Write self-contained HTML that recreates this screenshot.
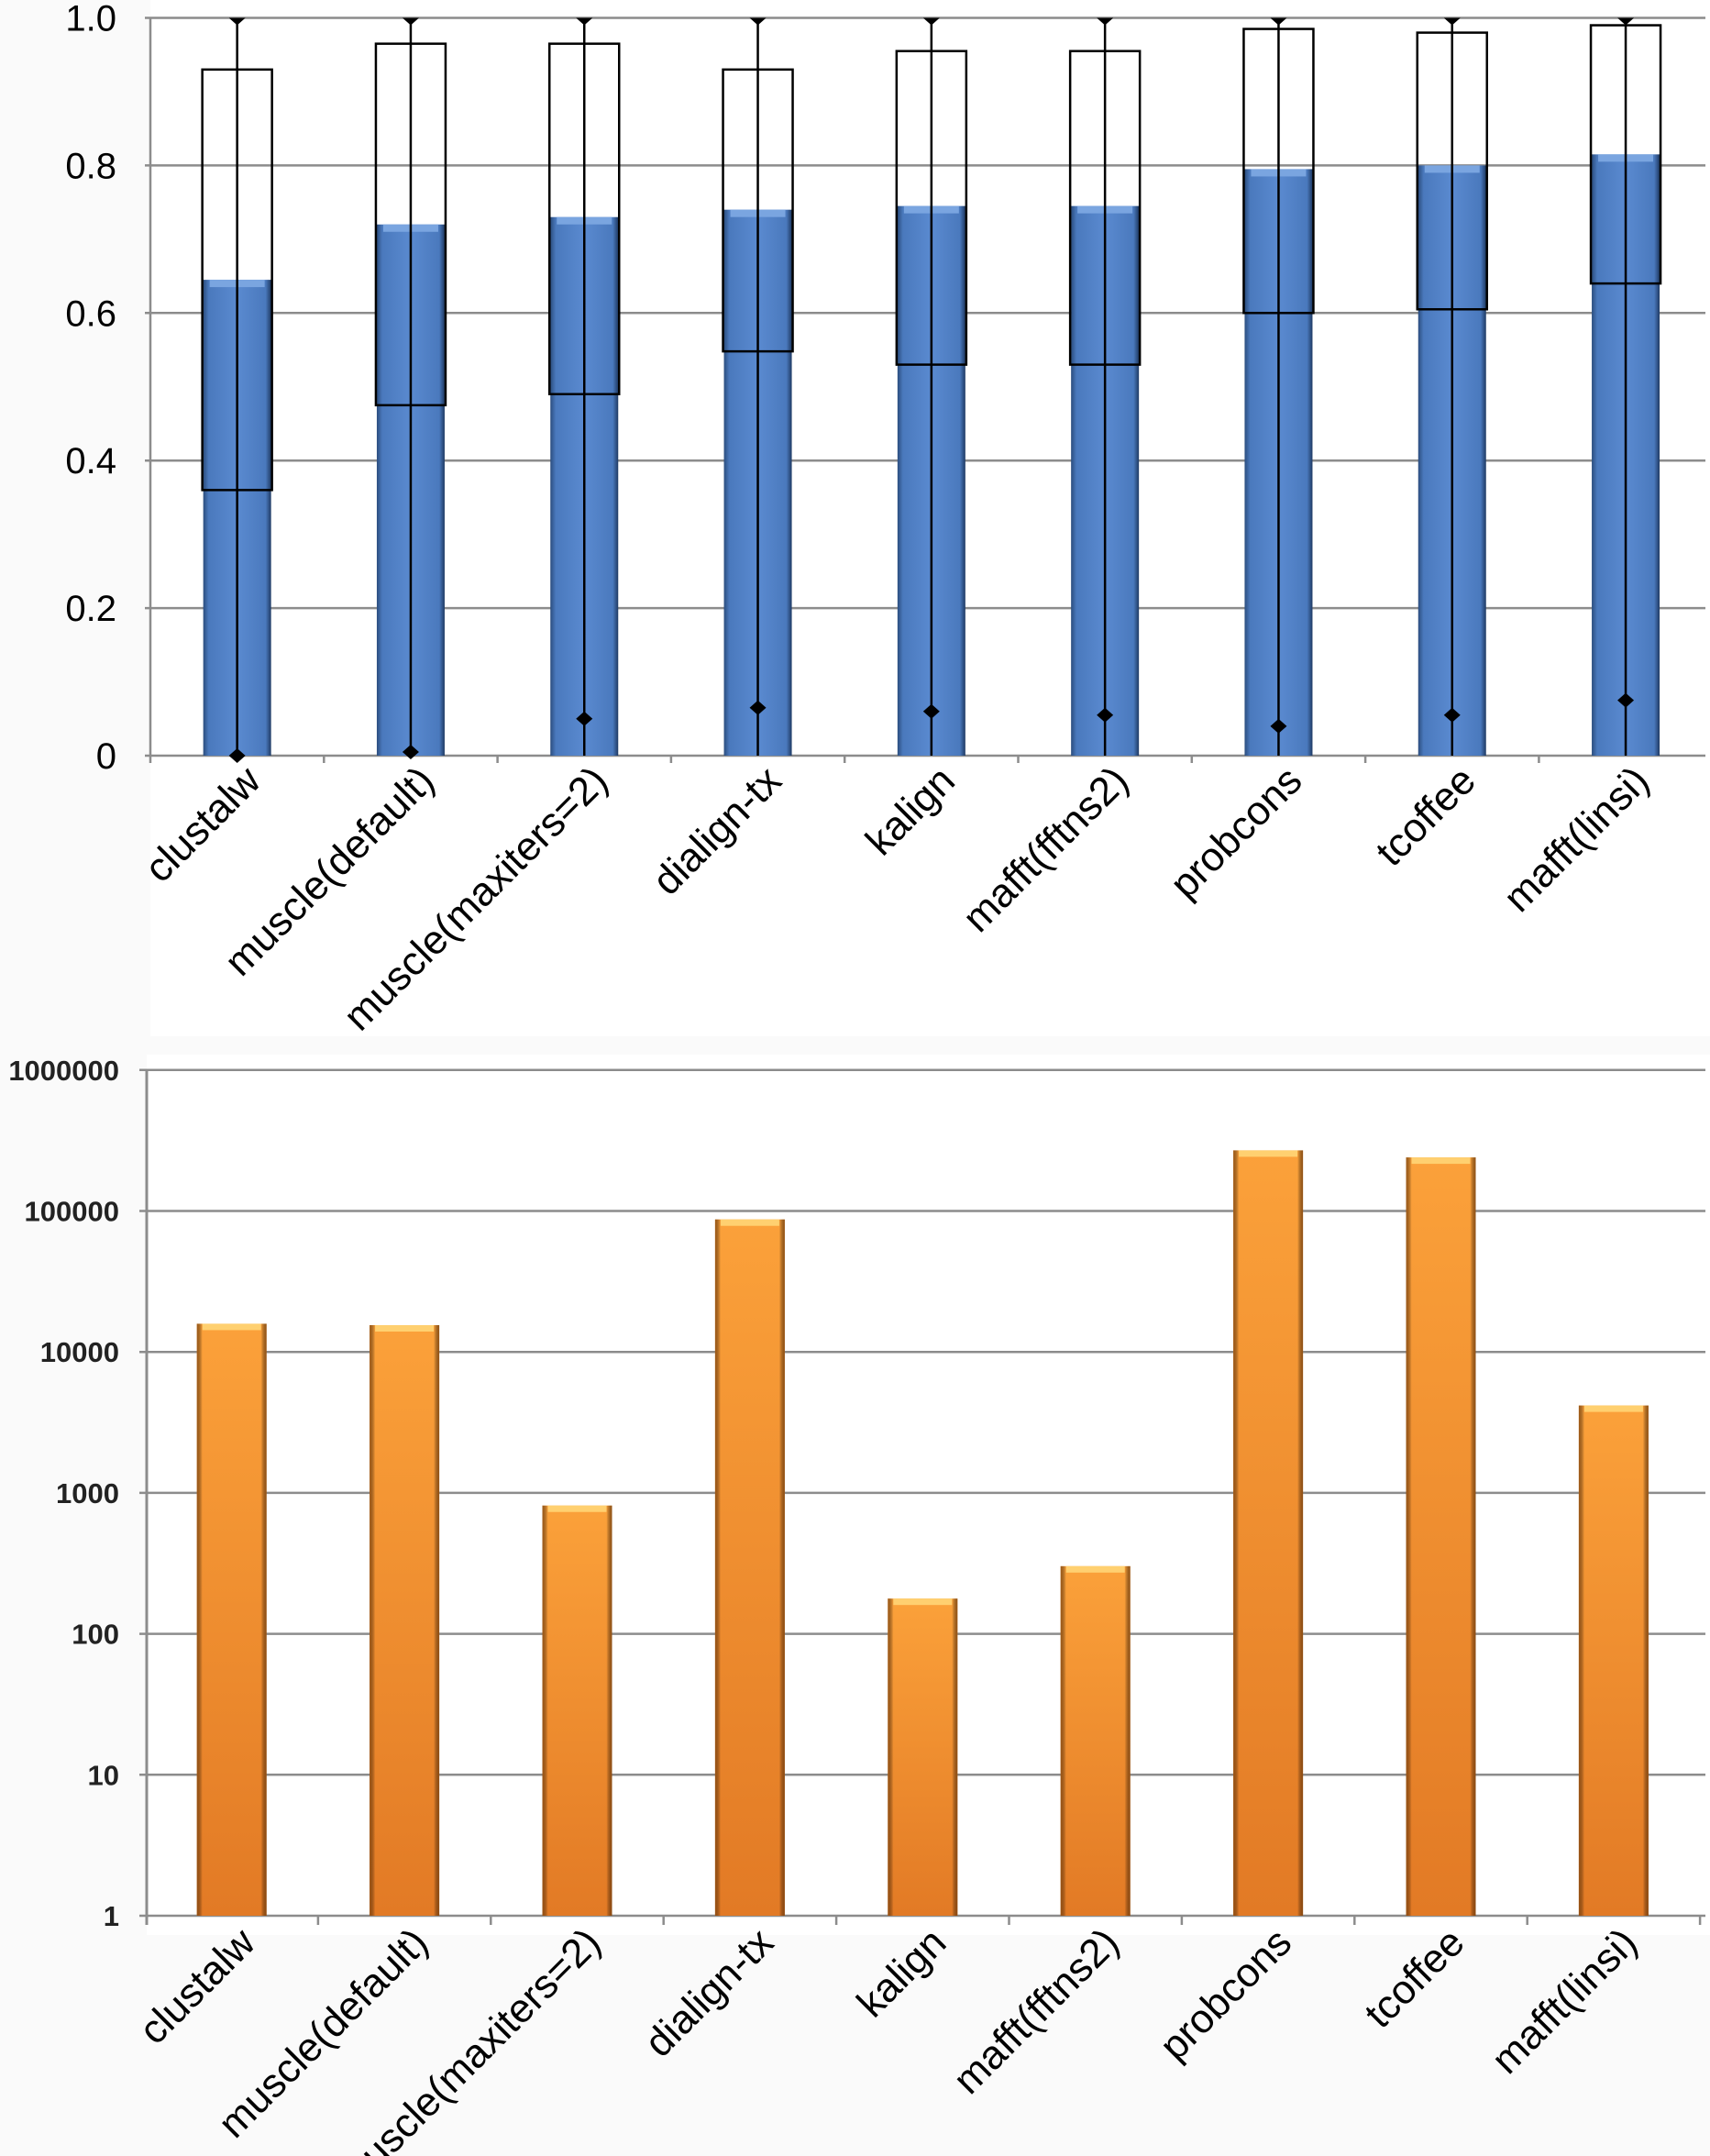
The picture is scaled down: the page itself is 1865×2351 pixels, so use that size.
<!DOCTYPE html>
<html><head><meta charset="utf-8"><style>
html,body{margin:0;padding:0;background:#fafafa;}
svg{display:block;}
text{font-family:"Liberation Sans",Arial,sans-serif;}
</style></head><body>
<svg id="s" width="1865" height="2351" viewBox="0 0 1865 2351" xmlns="http://www.w3.org/2000/svg">
<defs>
<linearGradient id="bl" x1="0" x2="1" y1="0" y2="0">
<stop offset="0" stop-color="#2b4d7e"/><stop offset="0.08" stop-color="#4a79bd"/><stop offset="0.5" stop-color="#5a8ad0"/><stop offset="0.92" stop-color="#4a79bd"/><stop offset="1" stop-color="#1f3a63"/>
</linearGradient>
<linearGradient id="or" x1="0" x2="0" y1="0" y2="1">
<stop offset="0" stop-color="#fba13a"/><stop offset="1" stop-color="#e27a25"/>
</linearGradient>
<linearGradient id="ore" x1="0" x2="1" y1="0" y2="0">
<stop offset="0" stop-color="#8a4a10" stop-opacity="0.8"/><stop offset="0.08" stop-color="#000" stop-opacity="0"/><stop offset="0.92" stop-color="#000" stop-opacity="0"/><stop offset="1" stop-color="#7a400c" stop-opacity="0.8"/>
</linearGradient>
</defs>
<rect x="164" y="0" width="1701" height="1130" fill="#fff"/>
<rect x="160" y="1150" width="1705" height="960" fill="#fff"/>
<g id="gtop"></g>
<g id="gbot"></g>
</svg>
<script>
var ns="http://www.w3.org/2000/svg";
function el(p,t,a,txt){var e=document.createElementNS(ns,t);for(var k in a)e.setAttribute(k,a[k]);if(txt!==undefined)e.textContent=txt;p.appendChild(e);return e;}
var names=["clustalw","muscle(default)","muscle(maxiters=2)","dialign-tx","kalign","mafft(fftns2)","probcons","tcoffee","mafft(linsi)"];
var W=189.3,X0=164;
var T=document.getElementById("gtop");
var y0=824,y1=19.5;function Y(v){return y0-(y0-y1)*v;}
[0.2,0.4,0.6,0.8,1.0].forEach(function(v){el(T,"line",{x1:158,x2:1860,y1:Y(v),y2:Y(v),stroke:"#8c8c8c","stroke-width":2.5});});
el(T,"line",{x1:158,x2:1860,y1:y0,y2:y0,stroke:"#8c8c8c","stroke-width":2.5});
el(T,"line",{x1:X0,x2:X0,y1:y1,y2:y0+8,stroke:"#8c8c8c","stroke-width":2.5});
["0","0.2","0.4","0.6","0.8","1.0"].forEach(function(s,i){el(T,"text",{x:127,y:Y(i*0.2)+14,"font-size":40,"text-anchor":"end",fill:"#000"},s);});
var tdata=[[0.93,0.645,0.36,0],[0.965,0.72,0.475,0.005],[0.965,0.73,0.49,0.05],[0.93,0.74,0.548,0.065],[0.955,0.745,0.53,0.06],[0.955,0.745,0.53,0.055],[0.985,0.795,0.6,0.04],[0.98,0.8,0.605,0.055],[0.99,0.815,0.64,0.075]];
tdata.forEach(function(d,i){var c=X0+W*(i+0.5);
 el(T,"line",{x1:X0+W*(i+1),x2:X0+W*(i+1),y1:y0,y2:y0+8,stroke:"#8c8c8c","stroke-width":2.5});
 el(T,"rect",{x:c-37,y:Y(d[1]),width:74,height:y0-Y(d[1]),fill:"url(#bl)"});
 el(T,"rect",{x:c-30,y:Y(d[1]),width:60,height:8,fill:"#7aa5e0"});
 el(T,"rect",{x:c-38,y:Y(d[0]),width:76,height:Y(d[2])-Y(d[0]),fill:"none",stroke:"#000","stroke-width":2.5});
 el(T,"line",{x1:c,x2:c,y1:y1,y2:y0,stroke:"#000","stroke-width":2.5});
 el(T,"path",{d:"M"+(c-9)+" "+y1+"L"+c+" "+(y1+8)+"L"+(c+9)+" "+y1+"Z",fill:"#000"});
 var ym=Y(d[3]);el(T,"path",{d:"M"+(c-9)+" "+ym+"L"+c+" "+(ym-8)+"L"+(c+9)+" "+ym+"L"+c+" "+(ym+8)+"Z",fill:"#000"});
 el(T,"text",{x:0,y:0,"font-size":44,"text-anchor":"end",transform:"translate("+(c+28)+","+(y0+30)+") rotate(-45)",fill:"#000"},names[i]);
});
var B=document.getElementById("gbot");
var b0=2089,dec=153.7;function L(v){return b0-dec*v;}
var W2=188.4,C0=252.7;
for(var k=0;k!==7;k++)el(B,"line",{x1:152,x2:1860,y1:L(k),y2:L(k),stroke:"#8c8c8c","stroke-width":2.5});
el(B,"line",{x1:160,x2:160,y1:L(6),y2:b0+10,stroke:"#8c8c8c","stroke-width":3});
["1","10","100","1000","10000","100000","1000000"].forEach(function(s,k){el(B,"text",{x:130,y:L(k)+11,"font-size":31,"font-weight":"bold","text-anchor":"end",fill:"#222"},s);});
var bv=[4.2,4.19,2.91,4.94,2.25,2.48,5.43,5.38,3.62];
bv.forEach(function(v,i){var c=C0+W2*i;
 el(B,"line",{x1:c+W2/2,x2:c+W2/2,y1:b0,y2:b0+10,stroke:"#8c8c8c","stroke-width":2.5});
 el(B,"rect",{x:c-38,y:L(v),width:76,height:b0-L(v),fill:"url(#or)"});
 el(B,"rect",{x:c-38,y:L(v),width:76,height:b0-L(v),fill:"url(#ore)"});
 el(B,"rect",{x:c-32,y:L(v),width:64,height:7,fill:"#ffd070"});
 el(B,"text",{x:0,y:0,"font-size":44,"text-anchor":"end",transform:"translate("+(c+28)+","+(b0+32)+") rotate(-45)",fill:"#000"},names[i]);
});
</script>
</body></html>
